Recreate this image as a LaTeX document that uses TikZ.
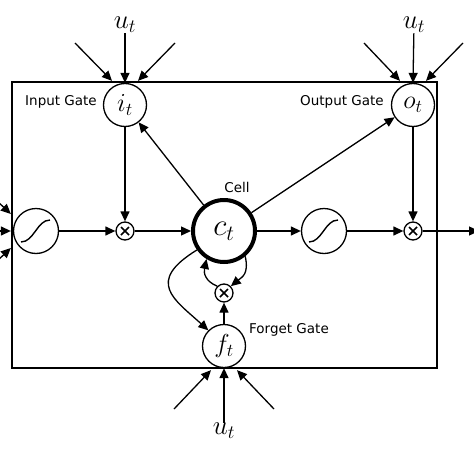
\RequirePackage{fix-cm}
\documentclass[tikz,border=0pt]{standalone}
\usepackage{fontspec}
\newfontfamily\labelfont{DejaVu Sans}
\usetikzlibrary{arrows.meta,calc}
\begin{document}
\begin{tikzpicture}[x=1pt,y=-1pt,
  line width=1.3pt,
  arr/.style={-{Triangle[length=10pt,width=9pt]}},
  gate/.style={circle,draw,fill=white,minimum size=43pt,inner sep=0pt,font=\fontsize{26}{26}\selectfont},
  cellnode/.style={circle,draw,fill=white,line width=4pt,minimum size=62pt,inner sep=0pt,font=\fontsize{31}{31}\selectfont},
  mult/.style={circle,draw,fill=white,minimum size=18pt,inner sep=0pt,
    path picture={\draw[line width=1.5pt]
      ($(path picture bounding box.center)+(-4pt,-4pt)$) -- ($(path picture bounding box.center)+(4pt,4pt)$)
      ($(path picture bounding box.center)+(-4pt,4pt)$) -- ($(path picture bounding box.center)+(4pt,-4pt)$);}},
  sig/.style={circle,draw,fill=white,minimum size=45pt,inner sep=0pt,
    path picture={\draw[line width=1.4pt]
      ($(path picture bounding box.center)+(-15pt,-11pt)$) .. controls ($(path picture bounding box.center)+(-2pt,-11pt)$) and ($(path picture bounding box.center)+(1pt,11pt)$) .. ($(path picture bounding box.center)+(14pt,11pt)$);}},
  lbl/.style={font=\labelfont\fontsize{13.5}{13.5}\selectfont,inner sep=0pt},
  ulbl/.style={font=\fontsize{27}{27}\selectfont,inner sep=0pt}
]
\useasboundingbox (0,0) rectangle (474,474);
\draw (12,82) rectangle (437,368);

\node[gate] (it) at (125,105) {$i_t$};
\node[gate] (ot) at (413,105) {$o_t$};
\node[gate] (ft) at (224,346) {$f_t$};
\node[cellnode] (ct) at (224,231) {$c_t$};
\node[sig] (sigin) at (36,231) {};
\node[sig] (sigout) at (324,231) {};
\node[mult] (m1) at (125,231) {};
\node[mult] (m2) at (413,231) {};
\node[mult] (m3) at (224,293) {};

\node[lbl] (lin) at (61,102) {Input Gate};
\node[lbl] (lout) at (342,102) {Output Gate};
\node[lbl] (lcell) at (237,187) {Cell};
\node[lbl] (lforget) at (289,330) {Forget Gate};

\node[ulbl] (ui) at (125,25) {$u_t$};
\node[ulbl] (uo) at (414,25) {$u_t$};
\node[ulbl] (uf) at (224,431) {$u_t$};

% inputs to input gate
\coordinate (ia) at (75,43);
\coordinate (ib) at (175,43);
\draw[arr] (ui) -- (it.north);
\draw[arr] (ia) -- ([shift={(-13pt,2pt)}]it.north);
\draw[arr] (ib) -- ([shift={(13pt,2pt)}]it.north);
% inputs to output gate
\coordinate (oa) at (364,43);
\coordinate (ob) at (463,43);
\draw[arr] (uo) -- (ot.north);
\draw[arr] (oa) -- ([shift={(-13pt,2pt)}]ot.north);
\draw[arr] (ob) -- ([shift={(13pt,2pt)}]ot.north);
% inputs to forget gate
\coordinate (fa) at (174,409);
\coordinate (fb) at (274,409);
\draw[arr] (uf) -- (ft.south);
\draw[arr] (fa) -- ([shift={(-13pt,-2pt)}]ft.south);
\draw[arr] (fb) -- ([shift={(13pt,-2pt)}]ft.south);
% inputs to input squashing
\coordinate (sa) at (-22,183);
\coordinate (sb) at (-30,231);
\coordinate (sc) at (-22,279);
\draw[arr] (sa) -- ([shift={(-2pt,17pt)}]sigin.west);
\draw[arr] (sb) -- ([shift={(-2pt,0pt)}]sigin.west);
\draw[arr] (sc) -- ([shift={(-2pt,-17pt)}]sigin.west);

% main flow
\draw[arr] (sigin) -- (m1);
\draw[arr] (it) -- (m1);
\draw[arr] (m1) -- (ct);
\draw[arr] (ct) -- (it);
\draw[arr] (ct) -- (ot);
\draw[arr] (ct) -- (sigout);
\draw[arr] (sigout) -- (m2);
\draw[arr] (ot) -- (m2);
\coordinate (out) at (479,231);
\draw[arr] (m2) -- (out);

% recurrence
\draw[arr] (ft) -- (m3);
\draw[arr] (ct.-50) .. controls +(4,18) and +(11,-9) .. (m3.45);
\draw[arr] (m3.135) .. controls +(-12,-5) and +(-3,14) .. (ct.-122);
\draw[arr] (ct.-145) .. controls +(-52,32) and +(-34,-31) .. (ft.135);
\end{tikzpicture}
\end{document}
